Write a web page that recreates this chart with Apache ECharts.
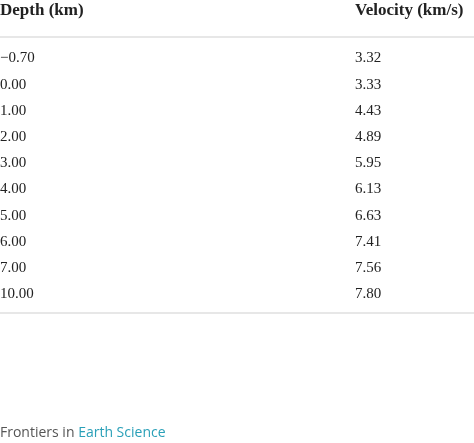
<!DOCTYPE html>
<html><head><meta charset="utf-8">
<script src="https://cdn.jsdelivr.net/npm/echarts@6/dist/echarts.min.js"></script>
<style>html,body{margin:0;padding:0;background:#fff}#c{width:474px;height:443px}</style>
</head><body><div id="c"></div>
<script>
const headers = ["Depth (km)", "Velocity (km/s)"];
const depths = ["\u22120.70", "0.00", "1.00", "2.00", "3.00", "4.00", "5.00", "6.00", "7.00", "10.00"];
const velocities = ["3.32", "3.33", "4.43", "4.89", "5.95", "6.13", "6.63", "7.41", "7.56", "7.80"];

const chart = echarts.init(document.getElementById('c'));
const font = '"Liberation Serif", "DejaVu Serif", serif';
const els = [];
els.push({type:'text', left:0, top:2, style:{text:headers[0], font:'bold 17px '+font, fill:'#222'}});
els.push({type:'text', left:355, top:2, style:{text:headers[1], font:'bold 17px '+font, fill:'#222'}});
els.push({type:'line', shape:{x1:0,y1:37,x2:474,y2:37}, style:{stroke:'#cfcfcf', lineWidth:1}});
els.push({type:'line', shape:{x1:0,y1:313,x2:474,y2:313}, style:{stroke:'#cfcfcf', lineWidth:1}});
depths.forEach((d,i)=>{
  const y = 51 + i*26.2;
  els.push({type:'text', left:0, top:y, style:{text:d, font:'15px '+font, fill:'#222'}});
  els.push({type:'text', left:355, top:y, style:{text:velocities[i], font:'15px '+font, fill:'#222'}});
});
els.push({type:'text', left:0, top:426, style:{rich:{a:{fill:'#555', font:'14px "Open Sans", sans-serif'}, b:{fill:'#2aa0b8', font:'14px "Open Sans", sans-serif'}}, text:'{a|Frontiers in }{b|Earth Science}'}});
chart.setOption({animation:false, graphic:{elements:els}});
</script></body></html>
